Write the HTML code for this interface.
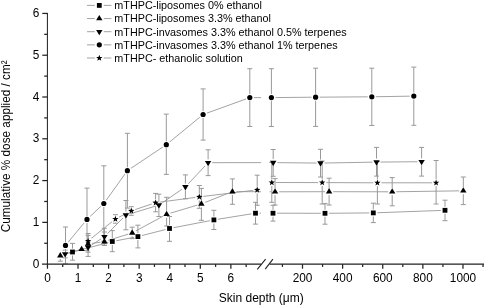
<!DOCTYPE html>
<html><head><meta charset="utf-8"><style>
html,body{margin:0;padding:0;background:#fff;width:484px;height:306px;overflow:hidden}
svg{display:block}
</style></head><body>
<svg width="484" height="306" viewBox="0 0 484 306">
<defs>
<mask id="mL0" maskUnits="userSpaceOnUse" x="0" y="0" width="484" height="306"><rect width="484" height="306" fill="#fff"/>
<circle cx="72.5" cy="252" r="4.1"/><circle cx="112.3" cy="241.5" r="4.1"/><circle cx="137.9" cy="236.6" r="4.1"/><circle cx="169.5" cy="228.5" r="4.1"/><circle cx="213.9" cy="219.9" r="4.1"/><circle cx="255.5" cy="213.2" r="4.1"/><circle cx="273" cy="213.2" r="4.1"/><circle cx="325" cy="213.3" r="4.1"/><circle cx="373.3" cy="212.9" r="4.1"/><circle cx="445" cy="210.3" r="4.1"/>
</mask>
<mask id="mE0" maskUnits="userSpaceOnUse" x="0" y="0" width="484" height="306"><rect width="484" height="306" fill="#fff"/>
<circle cx="72.5" cy="252" r="3.5"/><circle cx="112.3" cy="241.5" r="3.5"/><circle cx="137.9" cy="236.6" r="3.5"/><circle cx="169.5" cy="228.5" r="3.5"/><circle cx="213.9" cy="219.9" r="3.5"/><circle cx="255.5" cy="213.2" r="3.5"/><circle cx="273" cy="213.2" r="3.5"/><circle cx="325" cy="213.3" r="3.5"/><circle cx="373.3" cy="212.9" r="3.5"/><circle cx="445" cy="210.3" r="3.5"/>
</mask>
<mask id="mL1" maskUnits="userSpaceOnUse" x="0" y="0" width="484" height="306"><rect width="484" height="306" fill="#fff"/>
<circle cx="60.3" cy="255.6" r="4.1"/><circle cx="81.6" cy="249.3" r="4.1"/><circle cx="88.1" cy="244" r="4.1"/><circle cx="104.4" cy="241.6" r="4.1"/><circle cx="132.2" cy="232.9" r="4.1"/><circle cx="166.6" cy="214.3" r="4.1"/><circle cx="201.4" cy="203.9" r="4.1"/><circle cx="232.4" cy="191.6" r="4.1"/><circle cx="275.05" cy="191.8" r="4.1"/><circle cx="329.1" cy="191.7" r="4.1"/><circle cx="392.2" cy="191.8" r="4.1"/><circle cx="463.3" cy="190.8" r="4.1"/>
</mask>
<mask id="mE1" maskUnits="userSpaceOnUse" x="0" y="0" width="484" height="306"><rect width="484" height="306" fill="#fff"/>
<circle cx="60.3" cy="255.6" r="3.5"/><circle cx="81.6" cy="249.3" r="3.5"/><circle cx="88.1" cy="244" r="3.5"/><circle cx="104.4" cy="241.6" r="3.5"/><circle cx="132.2" cy="232.9" r="3.5"/><circle cx="166.6" cy="214.3" r="3.5"/><circle cx="201.4" cy="203.9" r="3.5"/><circle cx="232.4" cy="191.6" r="3.5"/><circle cx="275.05" cy="191.8" r="3.5"/><circle cx="329.1" cy="191.7" r="3.5"/><circle cx="392.2" cy="191.8" r="3.5"/><circle cx="463.3" cy="190.8" r="3.5"/>
</mask>
<mask id="mL2" maskUnits="userSpaceOnUse" x="0" y="0" width="484" height="306"><rect width="484" height="306" fill="#fff"/>
<circle cx="65.1" cy="254" r="4.1"/><circle cx="88.1" cy="247.3" r="4.1"/><circle cx="104.4" cy="236.7" r="4.1"/><circle cx="125.9" cy="215.1" r="4.1"/><circle cx="158.9" cy="205.1" r="4.1"/><circle cx="185.4" cy="186.9" r="4.1"/><circle cx="208.1" cy="162.7" r="4.1"/><circle cx="273.2" cy="162.6" r="4.1"/><circle cx="320.5" cy="163.1" r="4.1"/><circle cx="376.5" cy="162.1" r="4.1"/><circle cx="421.6" cy="161.7" r="4.1"/>
</mask>
<mask id="mE2" maskUnits="userSpaceOnUse" x="0" y="0" width="484" height="306"><rect width="484" height="306" fill="#fff"/>
<circle cx="65.1" cy="254" r="3.5"/><circle cx="88.1" cy="247.3" r="3.5"/><circle cx="104.4" cy="236.7" r="3.5"/><circle cx="125.9" cy="215.1" r="3.5"/><circle cx="158.9" cy="205.1" r="3.5"/><circle cx="185.4" cy="186.9" r="3.5"/><circle cx="208.1" cy="162.7" r="3.5"/><circle cx="273.2" cy="162.6" r="3.5"/><circle cx="320.5" cy="163.1" r="3.5"/><circle cx="376.5" cy="162.1" r="3.5"/><circle cx="421.6" cy="161.7" r="3.5"/>
</mask>
<mask id="mL3" maskUnits="userSpaceOnUse" x="0" y="0" width="484" height="306"><rect width="484" height="306" fill="#fff"/>
<circle cx="65.5" cy="245.4" r="4.1"/><circle cx="87" cy="219.4" r="4.1"/><circle cx="103.8" cy="203.5" r="4.1"/><circle cx="127.4" cy="170.7" r="4.1"/><circle cx="166.3" cy="144.7" r="4.1"/><circle cx="203.1" cy="114.5" r="4.1"/><circle cx="249.8" cy="97.6" r="4.1"/><circle cx="271.4" cy="97.6" r="4.1"/><circle cx="315.6" cy="97.2" r="4.1"/><circle cx="371.8" cy="96.8" r="4.1"/><circle cx="413.8" cy="96.1" r="4.1"/>
</mask>
<mask id="mE3" maskUnits="userSpaceOnUse" x="0" y="0" width="484" height="306"><rect width="484" height="306" fill="#fff"/>
<circle cx="65.5" cy="245.4" r="3.5"/><circle cx="87" cy="219.4" r="3.5"/><circle cx="103.8" cy="203.5" r="3.5"/><circle cx="127.4" cy="170.7" r="3.5"/><circle cx="166.3" cy="144.7" r="3.5"/><circle cx="203.1" cy="114.5" r="3.5"/><circle cx="249.8" cy="97.6" r="3.5"/><circle cx="271.4" cy="97.6" r="3.5"/><circle cx="315.6" cy="97.2" r="3.5"/><circle cx="371.8" cy="96.8" r="3.5"/><circle cx="413.8" cy="96.1" r="3.5"/>
</mask>
<mask id="mL4" maskUnits="userSpaceOnUse" x="0" y="0" width="484" height="306"><rect width="484" height="306" fill="#fff"/>
<circle cx="88.1" cy="241" r="4.1"/><circle cx="115.4" cy="219" r="4.1"/><circle cx="131.3" cy="210.9" r="4.1"/><circle cx="155.6" cy="202.7" r="4.1"/><circle cx="199.3" cy="196.9" r="4.1"/><circle cx="257.2" cy="189.9" r="4.1"/><circle cx="271.8" cy="182.5" r="4.1"/><circle cx="322.2" cy="182.6" r="4.1"/><circle cx="377.4" cy="182.8" r="4.1"/><circle cx="436.1" cy="182.8" r="4.1"/>
</mask>
<mask id="mE4" maskUnits="userSpaceOnUse" x="0" y="0" width="484" height="306"><rect width="484" height="306" fill="#fff"/>
<circle cx="88.1" cy="241" r="3.5"/><circle cx="115.4" cy="219" r="3.5"/><circle cx="131.3" cy="210.9" r="3.5"/><circle cx="155.6" cy="202.7" r="3.5"/><circle cx="199.3" cy="196.9" r="3.5"/><circle cx="257.2" cy="189.9" r="3.5"/><circle cx="271.8" cy="182.5" r="3.5"/><circle cx="322.2" cy="182.6" r="3.5"/><circle cx="377.4" cy="182.8" r="3.5"/><circle cx="436.1" cy="182.8" r="3.5"/>
</mask>
</defs>
<g stroke="#999" stroke-width="1" fill="none" mask="url(#mE0)">
<path d="M70 243.4H75M72.5 243.4V260.2M70 260.2H75"/>
<path d="M109.8 230.6H114.8M112.3 230.6V251.7M109.8 251.7H114.8"/>
<path d="M135.4 225.2H140.4M137.9 225.2V247.9M135.4 247.9H140.4"/>
<path d="M167 216.5H172M169.5 216.5V241.3M167 241.3H172"/>
<path d="M211.4 210.3H216.4M213.9 210.3V229.5M211.4 229.5H216.4"/>
<path d="M253 202.3H258M255.5 202.3V224.1M253 224.1H258"/>
<path d="M270.5 205.3H275.5M273 205.3V221.1M270.5 221.1H275.5"/>
<path d="M322.5 203.6H327.5M325 203.6V224.2M322.5 224.2H327.5"/>
<path d="M370.8 203.2H375.8M373.3 203.2V222.6M370.8 222.6H375.8"/>
<path d="M442.5 200.2H447.5M445 200.2V220.7M442.5 220.7H447.5"/>
</g>
<g stroke="#999" stroke-width="1" fill="none" mask="url(#mE1)">
<path d="M57.8 254H62.8M60.3 254V261.2M57.8 261.2H62.8"/>
<path d="M85.6 235.4H90.6M88.1 235.4V256.4M85.6 256.4H90.6"/>
<path d="M101.9 232H106.9M104.4 232V245.3M101.9 245.3H106.9"/>
<path d="M129.7 227.2H134.7M132.2 227.2V238.6M129.7 238.6H134.7"/>
<path d="M164.1 197.3H169.1M166.6 197.3V226M164.1 226H169.1"/>
<path d="M198.9 188.4H203.9M201.4 188.4V220.3M198.9 220.3H203.9"/>
<path d="M229.9 178.9H234.9M232.4 178.9V204.3M229.9 204.3H234.9"/>
<path d="M272.55 178.6H277.55M275.05 178.6V205M272.55 205H277.55"/>
<path d="M326.6 178.2H331.6M329.1 178.2V205M326.6 205H331.6"/>
<path d="M389.7 177.6H394.7M392.2 177.6V205.8M389.7 205.8H394.7"/>
<path d="M460.8 177H465.8M463.3 177V204.6M460.8 204.6H465.8"/>
</g>
<g stroke="#999" stroke-width="1" fill="none" mask="url(#mE2)">
<path d="M62.6 250.2H67.6M65.1 250.2V257.8M62.6 257.8H67.6"/>
<path d="M85.6 242H90.6M88.1 242V252.2M85.6 252.2H90.6"/>
<path d="M101.9 228.3H106.9M104.4 228.3V245.3M101.9 245.3H106.9"/>
<path d="M123.4 200.5H128.4M125.9 200.5V229.8M123.4 229.8H128.4"/>
<path d="M156.4 194.2H161.4M158.9 194.2V216.5M156.4 216.5H161.4"/>
<path d="M182.9 174.9H187.9M185.4 174.9V198.8M182.9 198.8H187.9"/>
<path d="M205.6 149.8H210.6M208.1 149.8V175.6M205.6 175.6H210.6"/>
<path d="M270.7 149.5H275.7M273.2 149.5V176.3M270.7 176.3H275.7"/>
<path d="M318 149.3H323M320.5 149.3V177M318 177H323"/>
<path d="M374 147.4H379M376.5 147.4V176.1M374 176.1H379"/>
<path d="M419.1 147.4H424.1M421.6 147.4V176.1M419.1 176.1H424.1"/>
</g>
<g stroke="#999" stroke-width="1" fill="none" mask="url(#mE3)">
<path d="M63 227H68M65.5 227V263.8M63 263.8H68"/>
<path d="M84.5 188.1H89.5M87 188.1V250.7M84.5 250.7H89.5"/>
<path d="M101.3 165.8H106.3M103.8 165.8V241.2M101.3 241.2H106.3"/>
<path d="M124.9 133.3H129.9M127.4 133.3V208.1M124.9 208.1H129.9"/>
<path d="M163.8 114.1H168.8M166.3 114.1V174.4M163.8 174.4H168.8"/>
<path d="M200.6 88.9H205.6M203.1 88.9V140.1M200.6 140.1H205.6"/>
<path d="M247.3 68.7H252.3M249.8 68.7V126.5M247.3 126.5H252.3"/>
<path d="M268.9 68.7H273.9M271.4 68.7V126.5M268.9 126.5H273.9"/>
<path d="M313.1 68.2H318.1M315.6 68.2V126.4M313.1 126.4H318.1"/>
<path d="M369.3 68.2H374.3M371.8 68.2V125.5M369.3 125.5H374.3"/>
<path d="M411.3 67.1H416.3M413.8 67.1V125.3M411.3 125.3H416.3"/>
</g>
<g stroke="#999" stroke-width="1" fill="none" mask="url(#mE4)">
<path d="M85.6 233.5H90.6M88.1 233.5V246.5M85.6 246.5H90.6"/>
<path d="M112.9 214.7H117.9M115.4 214.7V223.2M112.9 223.2H117.9"/>
<path d="M128.8 206.7H133.8M131.3 206.7V215.3M128.8 215.3H133.8"/>
<path d="M153.1 193.4H158.1M155.6 193.4V211.8M153.1 211.8H158.1"/>
<path d="M196.8 185.5H201.8M199.3 185.5V208.3M196.8 208.3H201.8"/>
<path d="M254.7 175.2H259.7M257.2 175.2V205.3M254.7 205.3H259.7"/>
<path d="M269.3 162.5H274.3M271.8 162.5V202.3M269.3 202.3H274.3"/>
<path d="M319.7 161H324.7M322.2 161V204M319.7 204H324.7"/>
<path d="M374.9 161.5H379.9M377.4 161.5V204M374.9 204H379.9"/>
<path d="M433.6 160.5H438.6M436.1 160.5V204M433.6 204H438.6"/>
</g>
<g stroke="#999" stroke-width="0.9" fill="none" mask="url(#mL0)">
<polyline points="72.5,252 112.3,241.5 137.9,236.6 169.5,228.5 213.9,219.9 255.5,213.2 261,213.2"/>
<polyline points="269.5,213.2 273,213.2 325,213.3 373.3,212.9 445,210.3"/>
</g>
<g stroke="#999" stroke-width="0.9" fill="none" mask="url(#mL1)">
<polyline points="60.3,255.6 81.6,249.3 88.1,244 104.4,241.6 132.2,232.9 166.6,214.3 201.4,203.9 232.4,191.6 261,191.73"/>
<polyline points="269.5,191.77 275.05,191.8 329.1,191.7 392.2,191.8 463.3,190.8"/>
</g>
<g stroke="#999" stroke-width="0.9" fill="none" mask="url(#mL2)">
<polyline points="65.1,254 88.1,247.3 104.4,236.7 125.9,215.1 158.9,205.1 185.4,186.9 208.1,162.7 261,162.62"/>
<polyline points="269.5,162.61 273.2,162.6 320.5,163.1 376.5,162.1 421.6,161.7"/>
</g>
<g stroke="#999" stroke-width="0.9" fill="none" mask="url(#mL3)">
<polyline points="65.5,245.4 87,219.4 103.8,203.5 127.4,170.7 166.3,144.7 203.1,114.5 249.8,97.6 261,97.6"/>
<polyline points="269.5,97.6 271.4,97.6 315.6,97.2 371.8,96.8 413.8,96.1"/>
</g>
<g stroke="#999" stroke-width="0.9" fill="none" mask="url(#mL4)">
<polyline points="88.1,241 115.4,219 131.3,210.9 155.6,202.7 199.3,196.9 257.2,189.9 261,187.97"/>
<polyline points="269.5,183.67 271.8,182.5 322.2,182.6 377.4,182.8 436.1,182.8"/>
</g>
<g fill="#000">
<rect x="70.1" y="249.6" width="4.8" height="4.8"/>
<rect x="109.9" y="239.1" width="4.8" height="4.8"/>
<rect x="135.5" y="234.2" width="4.8" height="4.8"/>
<rect x="167.1" y="226.1" width="4.8" height="4.8"/>
<rect x="211.5" y="217.5" width="4.8" height="4.8"/>
<rect x="253.1" y="210.8" width="4.8" height="4.8"/>
<rect x="270.6" y="210.8" width="4.8" height="4.8"/>
<rect x="322.6" y="210.9" width="4.8" height="4.8"/>
<rect x="370.9" y="210.5" width="4.8" height="4.8"/>
<rect x="442.6" y="207.9" width="4.8" height="4.8"/>
<path d="M60.3 252L63.5 257.4H57.1Z"/>
<path d="M81.6 245.7L84.8 251.1H78.4Z"/>
<path d="M88.1 240.4L91.3 245.8H84.9Z"/>
<path d="M104.4 238L107.6 243.4H101.2Z"/>
<path d="M132.2 229.3L135.4 234.7H129Z"/>
<path d="M166.6 210.7L169.8 216.1H163.4Z"/>
<path d="M201.4 200.3L204.6 205.7H198.2Z"/>
<path d="M232.4 188L235.6 193.4H229.2Z"/>
<path d="M275.05 188.2L278.25 193.6H271.85Z"/>
<path d="M329.1 188.1L332.3 193.5H325.9Z"/>
<path d="M392.2 188.2L395.4 193.6H389Z"/>
<path d="M463.3 187.2L466.5 192.6H460.1Z"/>
<path d="M65.1 257.6L68.3 252.2H61.9Z"/>
<path d="M88.1 250.9L91.3 245.5H84.9Z"/>
<path d="M104.4 240.3L107.6 234.9H101.2Z"/>
<path d="M125.9 218.7L129.1 213.3H122.7Z"/>
<path d="M158.9 208.7L162.1 203.3H155.7Z"/>
<path d="M185.4 190.5L188.6 185.1H182.2Z"/>
<path d="M208.1 166.3L211.3 160.9H204.9Z"/>
<path d="M273.2 166.2L276.4 160.8H270Z"/>
<path d="M320.5 166.7L323.7 161.3H317.3Z"/>
<path d="M376.5 165.7L379.7 160.3H373.3Z"/>
<path d="M421.6 165.3L424.8 159.9H418.4Z"/>
<circle cx="65.5" cy="245.4" r="2.6"/>
<circle cx="87" cy="219.4" r="2.6"/>
<circle cx="103.8" cy="203.5" r="2.6"/>
<circle cx="127.4" cy="170.7" r="2.6"/>
<circle cx="166.3" cy="144.7" r="2.6"/>
<circle cx="203.1" cy="114.5" r="2.6"/>
<circle cx="249.8" cy="97.6" r="2.6"/>
<circle cx="271.4" cy="97.6" r="2.6"/>
<circle cx="315.6" cy="97.2" r="2.6"/>
<circle cx="371.8" cy="96.8" r="2.6"/>
<circle cx="413.8" cy="96.1" r="2.6"/>
<polygon points="88.1,237.7 88.92,239.92 91.29,240.01 89.43,241.48 90.07,243.76 88.1,242.45 86.13,243.76 86.77,241.48 84.91,240.01 87.28,239.92"/>
<polygon points="115.4,215.7 116.22,217.92 118.59,218.01 116.73,219.48 117.37,221.76 115.4,220.45 113.43,221.76 114.07,219.48 112.21,218.01 114.58,217.92"/>
<polygon points="131.3,207.6 132.12,209.82 134.49,209.91 132.63,211.38 133.27,213.66 131.3,212.35 129.33,213.66 129.97,211.38 128.11,209.91 130.48,209.82"/>
<polygon points="155.6,199.4 156.42,201.62 158.79,201.71 156.93,203.18 157.57,205.46 155.6,204.15 153.63,205.46 154.27,203.18 152.41,201.71 154.78,201.62"/>
<polygon points="199.3,193.6 200.12,195.82 202.49,195.91 200.63,197.38 201.27,199.66 199.3,198.35 197.33,199.66 197.97,197.38 196.11,195.91 198.48,195.82"/>
<polygon points="257.2,186.6 258.02,188.82 260.39,188.91 258.53,190.38 259.17,192.66 257.2,191.35 255.23,192.66 255.87,190.38 254.01,188.91 256.38,188.82"/>
<polygon points="271.8,179.2 272.62,181.42 274.99,181.51 273.13,182.98 273.77,185.26 271.8,183.95 269.83,185.26 270.47,182.98 268.61,181.51 270.98,181.42"/>
<polygon points="322.2,179.3 323.02,181.52 325.39,181.61 323.53,183.08 324.17,185.36 322.2,184.05 320.23,185.36 320.87,183.08 319.01,181.61 321.38,181.52"/>
<polygon points="377.4,179.5 378.22,181.72 380.59,181.81 378.73,183.28 379.37,185.56 377.4,184.25 375.43,185.56 376.07,183.28 374.21,181.81 376.58,181.72"/>
<polygon points="436.1,179.5 436.92,181.72 439.29,181.81 437.43,183.28 438.07,185.56 436.1,184.25 434.13,185.56 434.77,183.28 432.91,181.81 435.28,181.72"/>
</g>
<g stroke="#333" stroke-width="1.15" fill="none">
<path d="M47.45 12.9V264.15"/>
</g>
<g stroke="#222" stroke-width="1.3" fill="none">
<path d="M42 264.15H261.0M269.5 264.15H484"/>
</g>
<g stroke="#222" stroke-width="1.25" fill="none">
<path d="M42.3 222.36H47.45"/>
<path d="M42.3 180.58H47.45"/>
<path d="M42.3 138.79H47.45"/>
<path d="M42.3 97.01H47.45"/>
<path d="M42.3 55.22H47.45"/>
<path d="M42.3 13.44H47.45"/>
<path d="M44.2 243.26H47.45"/>
<path d="M44.2 201.47H47.45"/>
<path d="M44.2 159.69H47.45"/>
<path d="M44.2 117.9H47.45"/>
<path d="M44.2 76.12H47.45"/>
<path d="M44.2 34.33H47.45"/>
<path d="M47.45 264.15V268.7"/>
<path d="M62.73 264.15V266.9"/>
<path d="M78.02 264.15V268.7"/>
<path d="M93.31 264.15V266.9"/>
<path d="M108.59 264.15V268.7"/>
<path d="M123.88 264.15V266.9"/>
<path d="M139.16 264.15V268.7"/>
<path d="M154.45 264.15V266.9"/>
<path d="M169.73 264.15V268.7"/>
<path d="M185.02 264.15V266.9"/>
<path d="M200.3 264.15V268.7"/>
<path d="M215.59 264.15V266.9"/>
<path d="M230.87 264.15V268.7"/>
<path d="M246.16 264.15V266.9"/>
<path d="M282.44 264.15V266.9"/>
<path d="M302.5 264.15V268.7"/>
<path d="M322.56 264.15V266.9"/>
<path d="M342.62 264.15V268.7"/>
<path d="M362.68 264.15V266.9"/>
<path d="M382.74 264.15V268.7"/>
<path d="M402.8 264.15V266.9"/>
<path d="M422.86 264.15V268.7"/>
<path d="M442.92 264.15V266.9"/>
<path d="M462.98 264.15V268.7"/>
<path d="M483.04 264.15V266.9"/>
</g>
<path d="M257.3 269.3L265.6 259.2M265.2 269.1L272.9 259.2" stroke="#222" stroke-width="1.1" fill="none"/>
<g font-family="Liberation Sans, Arial, sans-serif" font-size="12.9" fill="#000">
<text transform="translate(39.4 267.65) scale(0.915 1)" text-anchor="end">0</text>
<text transform="translate(39.4 225.86) scale(0.915 1)" text-anchor="end">1</text>
<text transform="translate(39.4 184.08) scale(0.915 1)" text-anchor="end">2</text>
<text transform="translate(39.4 142.29) scale(0.915 1)" text-anchor="end">3</text>
<text transform="translate(39.4 100.51) scale(0.915 1)" text-anchor="end">4</text>
<text transform="translate(39.4 58.72) scale(0.915 1)" text-anchor="end">5</text>
<text transform="translate(39.4 16.94) scale(0.915 1)" text-anchor="end">6</text>
<text transform="translate(47.45 282) scale(0.915 1)" text-anchor="middle">0</text>
<text transform="translate(78.02 282) scale(0.915 1)" text-anchor="middle">1</text>
<text transform="translate(108.59 282) scale(0.915 1)" text-anchor="middle">2</text>
<text transform="translate(139.16 282) scale(0.915 1)" text-anchor="middle">3</text>
<text transform="translate(169.73 282) scale(0.915 1)" text-anchor="middle">4</text>
<text transform="translate(200.3 282) scale(0.915 1)" text-anchor="middle">5</text>
<text transform="translate(230.87 282) scale(0.915 1)" text-anchor="middle">6</text>
<text transform="translate(302.5 282) scale(0.915 1)" text-anchor="middle">200</text>
<text transform="translate(342.62 282) scale(0.915 1)" text-anchor="middle">400</text>
<text transform="translate(382.74 282) scale(0.915 1)" text-anchor="middle">600</text>
<text transform="translate(422.86 282) scale(0.915 1)" text-anchor="middle">800</text>
<text transform="translate(462.98 282) scale(0.915 1)" text-anchor="middle">1000</text>
<text x="261.3" y="302.2" text-anchor="middle" font-size="12">Skin depth (μm)</text>
<text transform="translate(9.9 146.3) rotate(-90)" text-anchor="middle" font-size="12.5" textLength="172" lengthAdjust="spacingAndGlyphs">Cumulative % dose applied / cm²</text>
</g>
<g stroke="#999" stroke-width="0.9">
<path d="M87 5.4H94.8M103.8 5.4H111.4"/>
<path d="M87 18.55H94.8M103.8 18.55H111.4"/>
<path d="M87 31.7H94.8M103.8 31.7H111.4"/>
<path d="M87 44.85H94.8M103.8 44.85H111.4"/>
<path d="M87 58H94.8M103.8 58H111.4"/>
</g><g fill="#000">
<rect x="96.9" y="3" width="4.8" height="4.8"/>
<path d="M99.3 14.95L102.5 20.35H96.1Z"/>
<path d="M99.3 35.3L102.5 29.9H96.1Z"/>
<circle cx="99.3" cy="44.85" r="2.6"/>
<polygon points="99.3,54.7 100.12,56.92 102.49,57.01 100.63,58.48 101.27,60.76 99.3,59.45 97.33,60.76 97.97,58.48 96.11,57.01 98.48,56.92"/>
</g>
<g font-family="Liberation Sans, Arial, sans-serif" font-size="10.8" fill="#000">
<text x="114.3" y="9.3">mTHPC-liposomes 0% ethanol</text>
<text x="114.3" y="22.45">mTHPC-liposomes 3.3% ethanol</text>
<text x="114.3" y="35.6">mTHPC-invasomes 3.3% ethanol 0.5% terpenes</text>
<text x="114.3" y="48.75">mTHPC-invasomes 3.3% ethanol 1% terpenes</text>
<text x="114.3" y="61.9">mTHPC- ethanolic solution</text>
</g>
</svg>
</body></html>
